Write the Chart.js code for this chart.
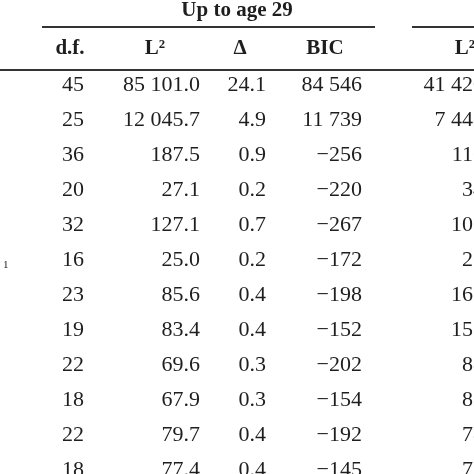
<!DOCTYPE html>
<html>
<head>
<meta charset="utf-8">
<script src="https://cdn.jsdelivr.net/npm/chart.js@4"></script>
<style>body{margin:0;background:#fff}</style>
</head>
<body>
<canvas id="myChart" width="474" height="474"></canvas>
<script>
var groupTitle = 'Up to age 29';
var headers = ['d.f.', 'L²', 'Δ', 'BIC', 'L²'];
var df = [45, 25, 36, 20, 32, 16, 23, 19, 22, 18, 22, 18];
var l2 = ['85 101.0', '12 045.7', '187.5', '27.1', '127.1', '25.0', '85.6', '83.4', '69.6', '67.9', '79.7', '77.4'];
var delta = ['24.1', '4.9', '0.9', '0.2', '0.7', '0.2', '0.4', '0.4', '0.3', '0.3', '0.4', '0.4'];
var bic = ['84 546', '11 739', '−256', '−220', '−267', '−172', '−198', '−152', '−202', '−154', '−192', '−145'];
var l2next = ['41 420', '7 448', '116', '34', '101', '26', '163', '157', '88', '82', '78', '73'];

// table cells drawn at scale positions
var colRight = [84, 200, 266, 362, 484];
var colHead = [70, 155, 240, 325, 465];

var tablePlugin = {
    id: 'table',
    afterDraw: function(chart) {
        var c = chart.ctx;
        var xs = chart.scales.x, ys = chart.scales.y;
        var X = function(v){ return xs.getPixelForValue(v); };
        var Y = function(v){ return ys.getPixelForValue(v); };
        c.save();
        c.fillStyle = '#1e1e1e';
        c.strokeStyle = '#333';
        c.textBaseline = 'middle';
        c.font = 'bold 21px "Liberation Serif", serif';
        c.textAlign = 'center';
        c.fillText(groupTitle, X(237), Y(11));
        c.lineWidth = 1.8;
        c.beginPath();
        c.moveTo(X(42), Y(27)); c.lineTo(X(375), Y(27));
        c.moveTo(X(412), Y(27)); c.lineTo(X(474), Y(27));
        c.moveTo(X(0), Y(70)); c.lineTo(X(474), Y(70));
        c.stroke();
        for (var h = 0; h < headers.length; h++) {
            c.fillText(headers[h], X(colHead[h]), Y(49));
        }
        c.font = '22px "Liberation Serif", serif';
        c.textAlign = 'right';
        for (var i = 0; i < df.length; i++) {
            var yy = Y(85 + i * 35);
            c.fillText(String(df[i]), X(colRight[0]), yy);
            c.fillText(l2[i], X(colRight[1]), yy);
            c.fillText(delta[i], X(colRight[2]), yy);
            c.fillText(bic[i], X(colRight[3]), yy);
            c.fillText(l2next[i], X(colRight[4]), yy);
        }
        c.textAlign = 'left';
        c.font = '11px "Liberation Serif", serif';
        c.fillText('1', X(3), Y(265));
        c.restore();
    }
};

var ctx = document.getElementById('myChart').getContext('2d');
var myChart = new Chart(ctx, {
    type: 'scatter',
    data: { datasets: [{ data: [] }] },
    options: {
        responsive: false,
        animation: false,
        layout: { padding: 0 },
        plugins: { legend: { display: false }, tooltip: { enabled: false } },
        scales: {
            x: { type: 'linear', min: 0, max: 474, display: false },
            y: { type: 'linear', min: 0, max: 474, reverse: true, display: false }
        }
    },
    plugins: [tablePlugin]
});
</script>
</body>
</html>
